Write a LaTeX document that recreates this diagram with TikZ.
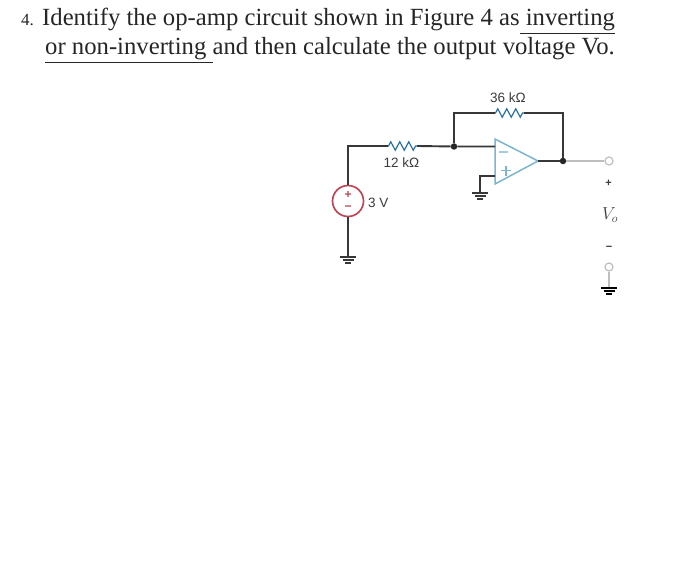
\documentclass[tikz,border=0pt]{standalone}
\usepackage{fontspec}
\setmainfont{Liberation Serif}
\setsansfont{Liberation Sans}
\usetikzlibrary{calc,decorations.pathmorphing}
\definecolor{wirecol}{RGB}{55,55,55}
\definecolor{ampcol}{RGB}{125,180,210}
\definecolor{rescol}{RGB}{45,115,165}
\definecolor{srccol}{RGB}{190,70,85}
\definecolor{labcol}{RGB}{60,60,60}
\definecolor{outcol}{RGB}{190,190,190}
\tikzset{
  wire/.style={draw=wirecol,line width=1.9pt},
  outwire/.style={draw=outcol,line width=1.6pt},
  res/.style={draw=rescol,line width=1.2pt,decorate,
    decoration={zigzag,segment length=9pt,amplitude=4.2pt,pre length=0.5pt,post length=0.5pt}},
  dot/.style={circle,fill=black!85,inner sep=0pt,minimum size=6.5pt},
  term/.style={circle,draw=outcol,fill=white,line width=1.2pt,inner sep=0pt,minimum size=8pt},
  lab/.style={font=\sffamily\fontsize{13.5}{15}\selectfont,text=labcol,inner sep=0pt},
  srcsign/.style={text=srccol,inner sep=0pt,font=\sffamily\bfseries\fontsize{12}{12}\selectfont},
  heading/.style={font=\fontsize{24.7}{28}\selectfont,text=black!85,inner sep=0pt,anchor=base west}
}
\newcommand{\gnd}[2][wire]{
  \draw[#1] ($(#2)+(-8,0)$) -- ($(#2)+(8,0)$);
  \draw[#1] ($(#2)+(-5.5,3)$) -- ($(#2)+(5.5,3)$);
  \draw[#1] ($(#2)+(-3,6)$) -- ($(#2)+(3,6)$);
}
\begin{document}
\begin{tikzpicture}[x=1pt,y=-1pt]
  \useasboundingbox (0,0) rectangle (700,564);

  \node[heading] (line1) at (21,26) {{\fontsize{17}{20}\selectfont 4.} Identify the op-amp circuit shown in Figure 4 as\underline{ inverting}};
  \node[heading] (line2) at (45,55) {\underline{or non-inverting }and then calculate the output voltage Vo.};

  % input side
  \node[circle,draw=srccol,line width=1.7pt,minimum size=31pt,inner sep=0pt] (src) at (348,201) {};
  \node[srcsign] (srcp) at (348,194.5) {+};
  \node[srcsign] (srcm) at (348,208) {−};
  \node[lab,anchor=west] (srclab) at (368,202.5) {3 V};
  \coordinate (corner) at (348,146);
  \coordinate (r1a) at (388,146);
  \coordinate (r1b) at (417,146);
  \node[dot] (junc) at (454,146.5) {};
  \node[lab] (r1lab) at (401.5,163) {12 kΩ};
  \coordinate (gnda) at (348,257);

  % feedback
  \coordinate (fba) at (454,113);
  \coordinate (r2a) at (495,113);
  \coordinate (r2b) at (524,113);
  \coordinate (fbb) at (563,113);
  \node[dot] (outj) at (563,161) {};
  \node[lab] (r2lab) at (508,98) {36 kΩ};

  % op-amp
  \coordinate (ampn) at (495,146.5);
  \coordinate (ampp) at (495,176);
  \coordinate (tip) at (538,161);
  \draw[draw=ampcol,line width=1.5pt,line join=miter] (495,139) -- (tip) -- (495,184) -- cycle;
  \draw[draw=ampcol!70,line width=1.2pt] (499,152) -- (508,152);
  \draw[draw=ampcol,line width=1.3pt] (501,170.5) -- (511,170.5) (506,165.5) -- (506,175.5);
  \coordinate (ampg) at (480,176);
  \coordinate (gndb) at (480,193);

  % output
  \node[term] (outp) at (609,161) {};
  \node[term] (outm) at (609,267) {};
  \coordinate (gndc) at (609,288);
  \node[lab,font=\sffamily\bfseries\fontsize{11}{13}\selectfont] (plus) at (608.5,183) {+};
  \node[inner sep=0pt,font=\fontsize{18}{20}\selectfont,text=labcol] (vo) at (610,215) {$V_o$};
  \node[lab,font=\sffamily\bfseries\fontsize{11}{13}\selectfont] (minus) at (609,248) {−};

  \draw[wire] (src) -- (corner) -- (r1a);
  \draw[wire] (r1b) -- (junc) -- (ampn);
  \draw[res] (r1a) -- (r1b);
  \draw[wire] (junc) -- (fba) -- (r2a);
  \draw[res] (r2a) -- (r2b);
  \draw[wire] (r2b) -- (fbb) -- (outj);
  \draw[wire] (tip) -- (outj);
  \draw[outwire] (outj) -- (outp);
  \draw[wire] (ampp) -- (ampg) -- (gndb);
  \draw[wire] (src) -- (gnda);
  \draw[outwire] (outm) -- (gndc);
  \gnd{gnda}
  \gnd{gndb}
  \gnd[wire,draw=black,line width=2.4pt]{gndc}
\end{tikzpicture}
\end{document}
